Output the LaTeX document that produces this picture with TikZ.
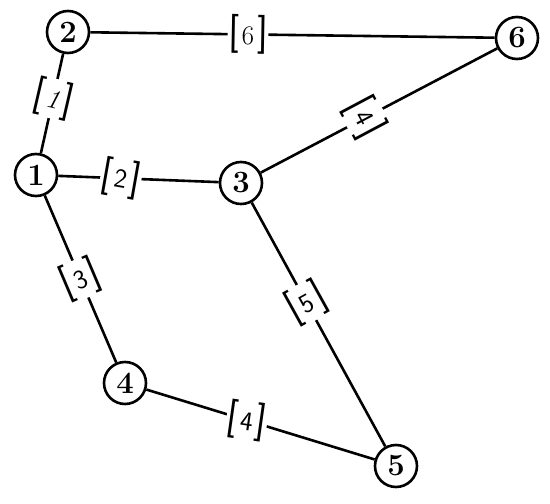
\documentclass[tikz,border=0pt]{standalone}
\usepackage{fontspec}
\usetikzlibrary{calc}

\tikzset{
  vertex/.style={circle,draw,line width=2.6pt,minimum size=42pt,inner sep=0pt,fill=white,
    font=\fontsize{31}{31}\selectfont\bfseries},
  wlabel/.style={fill=white,inner sep=0.5pt,font=\fontsize{27}{27}\selectfont},
}
\newcommand{\brk}[1]{{\fontsize{39}{39}\selectfont\sffamily[}\kern3pt{#1}\kern3pt{\fontsize{39}{39}\selectfont\sffamily]}}

\begin{document}
\begin{tikzpicture}[x=1pt,y=-1pt,line width=2.6pt]
        \useasboundingbox (0,0) rectangle (550,504);

        % 1. Vertices
        \node (n2) at (68,32) [vertex] {2};
        \node (n6) at (517,38) [vertex] {6};
        \node (n1) at (36,175) [vertex] {1};
        \node (n3) at (241,183) [vertex] {3};
        \node (n4) at (125,383) [vertex] {4};
        \node (n5) at (396,466) [vertex] {5};

        % 2. Weighted edges
        \draw (n2) -- node[wlabel,pos=0.39,rotate=-1] {\brk{6}} (n6);
        \draw (n2) -- node[wlabel,pos=0.45,rotate=-13] {\brk{\itshape 1}} (n1);
        \draw (n1) -- node[wlabel,pos=0.39,rotate=-10] {\brk{\sffamily 2}} (n3);
        \draw (n3) -- node[wlabel,pos=0.44,rotate=-62] {\brk{\sffamily 4}} (n6);
        \draw (n1) -- node[wlabel,pos=0.50,rotate=23] {\brk{\sffamily 3}} (n4);
        \draw (n3) -- node[wlabel,pos=0.41,rotate=29] {\brk{\sffamily 5}} (n5);
        \draw (n4) -- node[wlabel,pos=0.44,rotate=-8] {\brk{\sffamily 4}} (n5);

    \end{tikzpicture}
\end{document}
